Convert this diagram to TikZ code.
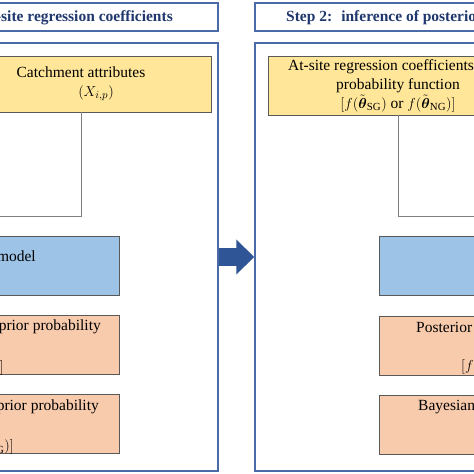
\documentclass[tikz,border=0pt]{standalone}
\usepackage{amsmath}
\usepackage{fontspec}
\setmainfont{Liberation Serif}
\usetikzlibrary{arrows.meta}
\definecolor{stepblue}{RGB}{74,106,168}
\definecolor{titlenavy}{RGB}{32,56,110}
\definecolor{inyellow}{RGB}{255,230,153}
\definecolor{modelblue}{RGB}{157,195,230}
\definecolor{priorsalmon}{RGB}{248,203,173}
\definecolor{arrowblue}{RGB}{47,85,151}
\begin{document}
\begin{tikzpicture}[x=1pt,y=-1pt,font=\fontsize{15.5}{19}\selectfont,
	frame/.style={draw=stepblue, line width=1.5pt, fill=white, inner sep=0pt},
	box/.style={draw=black!65, line width=0.9pt, inner sep=0pt, minimum width=260pt, minimum height=59pt, align=center},
	word/.style={inner sep=0pt},
	title/.style={inner sep=0pt, text=titlenavy, font=\fontsize{15.5}{19}\selectfont\bfseries},
	link/.style={draw=black!50, line width=1pt}]
	\useasboundingbox (0,0) rectangle (474,474);
	\clip (0,0) rectangle (474,474);
	\fill[white] (0,0) rectangle (474,474);
	% the two steps
	\node (T1) at (-21, 17)	[frame, minimum width=478pt, minimum height=28pt]	{};
	\node (T2) at (494, 17)	[frame, minimum width=478pt, minimum height=28pt]	{};
	\node (S1) at (-21,257)	[frame, minimum width=478pt, minimum height=428pt]	{};
	\node (S2) at (494,257)	[frame, minimum width=478pt, minimum height=428pt]	{};
	\node (T1a) at (173, 17.5)	[title, anchor=east]	{at-site regression coefficients};
	\node (T2a) at (286, 17.5)	[title, anchor=west]	{Step 2:~ inference of posterior};
	% step 1
	\node (catL) at ( 81, 84)	[box, fill=inyellow, minimum height=56pt]	{Catchment attributes\\\hspace*{30pt}$(X_{i,p})$};
	\node (modL) at (-11,265.5)	[box, fill=modelblue]	{};
	\node (priL1) at (-11,345)	[box, fill=priorsalmon]	{};
	\node (priL2) at (-11,424)	[box, fill=priorsalmon]	{};
	\node (modLa) at ( 36,256)	[word, anchor=east]	{model};
	\node (priL1a) at (101,327)	[word, anchor=east]	{prior probability};
	\node (priL1c) at (  4,367)	[word, anchor=east]	{$[f(\tilde{\boldsymbol{\theta}}_{\mathrm{SG}})]$};
	\node (priL2a) at ( 99,407)	[word, anchor=east]	{prior probability};
	\node (priL2c) at ( 14,446)	[word, anchor=east]	{$[f(\tilde{\boldsymbol{\theta}}_{\mathrm{NG}})]$};
	\coordinate (jL) at (-30,216);
	\draw[link] (catL.south) |- (jL);
	% step 2
	\node (inR) at (398, 85.5)	[box, fill=inyellow]	{At-site regression coefficients prior\\probability function\\$[f(\tilde{\boldsymbol{\theta}}_{\mathrm{SG}})$ or $f(\tilde{\boldsymbol{\theta}}_{\mathrm{NG}})]$};
	\node (modR) at (509,265.5)	[box, fill=modelblue]	{};
	\node (postR) at (509,345.5)	[box, fill=priorsalmon]	{};
	\node (bayR) at (509,424.5)	[box, fill=priorsalmon]	{};
	\node (postRa) at (416,328.5)	[word, anchor=west]	{Posterior probability};
	\node (postRc) at (461,366)	[word, anchor=west]	{$[f(\tilde{\boldsymbol{\theta}}_{\mathrm{SG}})]$};
	\node (bayRa) at (418,407)	[word, anchor=west]	{Bayesian inference};
	\coordinate (jR) at (500,216);
	\draw[link] (inR.south) |- (jR);
	% step 1 to step 2
	\draw[arrowblue, line width=18pt, -{Triangle[length=18pt,width=34pt]}] (S1.east) -- (S2.west);
\end{tikzpicture}
\end{document}
